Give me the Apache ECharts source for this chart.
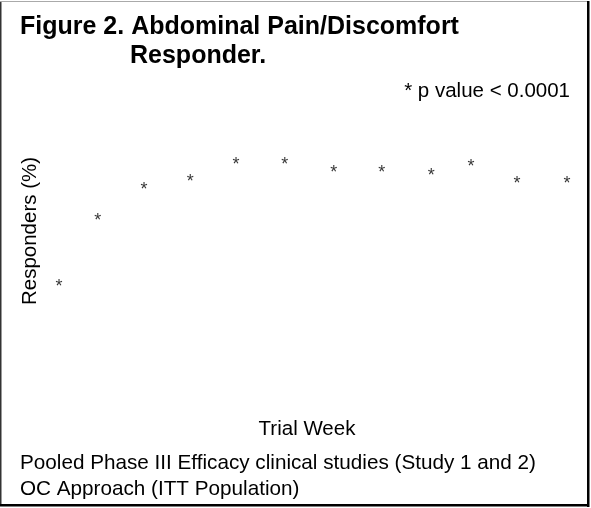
<!DOCTYPE html>
<html>
<head>
<meta charset="utf-8">
<script src="https://cdn.jsdelivr.net/npm/echarts@6/dist/echarts.min.js"></script>
<style>
  html, body { margin: 0; padding: 0; background: #fff; }
  #chart { width: 591px; height: 508px; }
</style>
</head>
<body>
<div id="chart"></div>
<script>
// trial week position of each significance marker
var weekPos = [1, 1.84, 2.84, 3.84, 4.83, 5.89, 6.95, 7.99, 9.06, 9.92, 10.92, 12];
// responders (%) at each marker, estimated
var responders = [24.0, 37.7, 44.1, 45.8, 49.3, 49.3, 47.6, 47.6, 47.0, 48.9, 45.3, 45.3];
var marker = '*';

var titleLines = ['Figure 2. Abdominal Pain/Discomfort', 'Responder.'];
var pNote = '* p value < 0.0001';
var footLines = ['Pooled Phase III Efficacy clinical studies (Study 1 and 2)', 'OC Approach (ITT Population)'];

var font = '"Liberation Sans", Arial, Helvetica, sans-serif';

var points = [];
for (var i = 0; i < weekPos.length; i++) {
    points.push([weekPos[i], responders[i]]);
}

var chart = echarts.init(document.getElementById('chart'));
var option = {
    backgroundColor: '#fff',
    animation: false,
    title: [
        {
            text: titleLines[0], left: 20, top: 15, padding: 0,
            textStyle: { fontFamily: font, fontSize: 25, fontWeight: 'bold', color: '#000' }
        },
        {
            text: titleLines[1], left: 130, top: 44, padding: 0,
            textStyle: { fontFamily: font, fontSize: 25, fontWeight: 'bold', color: '#000' }
        },
        {
            text: pNote, right: 21, top: 81, padding: 0,
            textStyle: { fontFamily: font, fontSize: 20.5, fontWeight: 'normal', color: '#000' }
        },
        {
            text: footLines[0], left: 20, top: 453, padding: 0,
            textStyle: { fontFamily: font, fontSize: 20.7, fontWeight: 'normal', color: '#000' }
        },
        {
            text: footLines[1], left: 20, top: 479, padding: 0,
            textStyle: { fontFamily: font, fontSize: 20.7, fontWeight: 'normal', color: '#000' }
        }
    ],
    grid: { left: 44, right: 21, top: 62, bottom: 108 },
    xAxis: {
        type: 'value',
        min: 0.675, max: 12.065,
        name: 'Trial Week',
        nameLocation: 'middle',
        nameGap: 19,
        nameTextStyle: { fontFamily: font, fontSize: 20.5, color: '#000' },
        axisLine: { show: false },
        axisTick: { show: false },
        axisLabel: { show: false },
        splitLine: { show: false }
    },
    yAxis: {
        type: 'value',
        min: 0, max: 70,
        name: 'Responders (%)',
        nameLocation: 'middle',
        nameRotate: 90,
        nameGap: 3,
        nameTextStyle: { fontFamily: font, fontSize: 20.5, color: '#000' },
        axisLine: { show: false },
        axisTick: { show: false },
        axisLabel: { show: false },
        splitLine: { show: false }
    },
    series: [{
        type: 'scatter',
        data: points,
        symbolSize: 0,
        silent: true,
        label: {
            show: true,
            position: 'inside',
            formatter: marker,
            offset: [0, 3],
            fontFamily: font,
            fontSize: 18,
            color: '#000'
        }
    }],
    graphic: [
        { type: 'rect', shape: { x: 0, y: 1, width: 1.5, height: 505 }, style: { fill: '#333' } },
        { type: 'rect', shape: { x: 0, y: 1, width: 589, height: 1 }, style: { fill: '#aaa' } },
        { type: 'rect', shape: { x: 587, y: 1, width: 2.5, height: 506 }, style: { fill: '#000' } },
        { type: 'rect', shape: { x: 0, y: 504, width: 589, height: 2.5 }, style: { fill: '#000' } }
    ]
};
chart.setOption(option);
</script>
</body>
</html>
